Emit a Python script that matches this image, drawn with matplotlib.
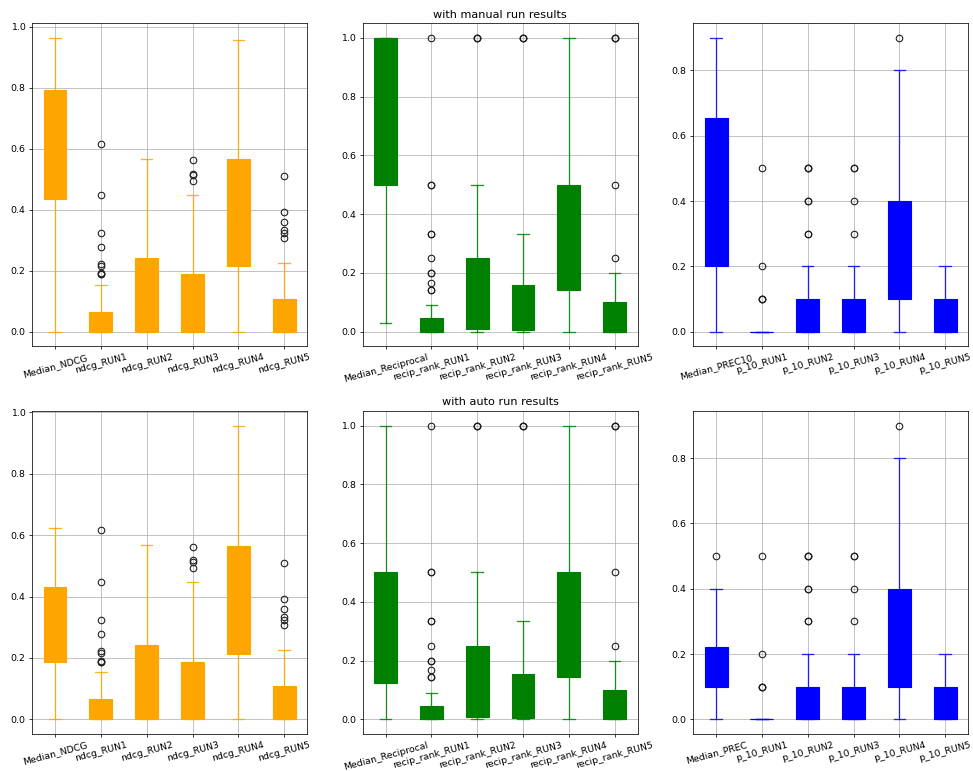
import matplotlib
matplotlib.use('Agg')
import matplotlib.pyplot as plt


# ラベル
ndcg_labels = ['Median_NDCG', 'ndcg_RUN1', 'ndcg_RUN2', 'ndcg_RUN3', 'ndcg_RUN4', 'ndcg_RUN5']
recip_labels = ['Median_Reciprocal', 'recip_rank_RUN1', 'recip_rank_RUN2',
                'recip_rank_RUN3', 'recip_rank_RUN4', 'recip_rank_RUN5']
prec_labels_manual = ['Median_PREC10', 'p_10_RUN1', 'p_10_RUN2', 'p_10_RUN3', 'p_10_RUN4', 'p_10_RUN5']
prec_labels_auto = ['Median_PREC', 'p_10_RUN1', 'p_10_RUN2', 'p_10_RUN3', 'p_10_RUN4', 'p_10_RUN5']

# NDCG (manual)
ndcg_whislo_manual = [0.0, 0.0, 0.0, 0.0, 0.0, 0.0]
ndcg_q1_manual = [0.435, 0.0, 0.0, 0.0, 0.214, 0.0]
ndcg_med_manual = [0.62, 0.0, 0.06, 0.03, 0.39, 0.0]
ndcg_q3_manual = [0.794, 0.065, 0.241, 0.188, 0.565, 0.108]
ndcg_whishi_manual = [0.964, 0.153, 0.567, 0.448, 0.957, 0.225]
ndcg_fliers_manual = [
    [],
    [0.617, 0.448, 0.323, 0.279, 0.222, 0.216, 0.191, 0.188, 0.188],
    [],
    [0.562, 0.518, 0.513, 0.493],
    [],
    [0.509, 0.393, 0.358, 0.334, 0.323, 0.307],
]

# NDCG (auto)
ndcg_whislo_auto = [0.0, 0.0, 0.0, 0.0, 0.0, 0.0]
ndcg_q1_auto = [0.186, 0.0, 0.0, 0.0, 0.214, 0.0]
ndcg_med_auto = [0.30, 0.0, 0.06, 0.03, 0.39, 0.0]
ndcg_q3_auto = [0.431, 0.065, 0.241, 0.188, 0.565, 0.108]
ndcg_whishi_auto = [0.624, 0.153, 0.567, 0.448, 0.957, 0.225]
ndcg_fliers_auto = ndcg_fliers_manual

# Reciprocal rank (manual)
recip_whislo_manual = [0.028, 0.0, 0.0, 0.0, 0.0, 0.0]
recip_q1_manual = [0.5, 0.0, 0.008, 0.005, 0.143, 0.0]
recip_med_manual = [1.0, 0.0, 0.05, 0.03, 0.25, 0.0]
recip_q3_manual = [1.0, 0.045, 0.25, 0.157, 0.5, 0.1]
recip_whishi_manual = [1.0, 0.09, 0.5, 0.333, 1.0, 0.2]
recip_fliers_manual = [
    [],
    [1.0, 0.5, 0.5, 0.333, 0.333, 0.25, 0.2, 0.2, 0.167, 0.143, 0.143],
    [1.0, 1.0, 1.0],
    [1.0, 1.0, 1.0],
    [],
    [1.0, 1.0, 1.0, 0.5, 0.25],
]

# Reciprocal rank (auto)
recip_whislo_auto = [0.0, 0.0, 0.0, 0.0, 0.0, 0.0]
recip_q1_auto = [0.123, 0.0, 0.008, 0.005, 0.143, 0.0]
recip_med_auto = [0.25, 0.0, 0.05, 0.03, 0.25, 0.0]
recip_q3_auto = [0.5, 0.045, 0.25, 0.153, 0.5, 0.1]
recip_whishi_auto = [1.0, 0.09, 0.5, 0.333, 1.0, 0.2]
recip_fliers_auto = recip_fliers_manual

# P@10 (manual)
prec_whislo_manual = [0.0, 0.0, 0.0, 0.0, 0.0, 0.0]
prec_q1_manual = [0.2, 0.0, 0.0, 0.0, 0.1, 0.0]
prec_med_manual = [0.4, 0.0, 0.0, 0.0, 0.2, 0.0]
prec_q3_manual = [0.653, 0.0, 0.1, 0.1, 0.4, 0.1]
prec_whishi_manual = [0.9, 0.0, 0.2, 0.2, 0.8, 0.2]
prec_fliers_manual = [
    [],
    [0.5, 0.2, 0.1, 0.1, 0.1],
    [0.5, 0.5, 0.5, 0.4, 0.4, 0.3, 0.3],
    [0.5, 0.5, 0.4, 0.3],
    [0.9],
    [],
]

# P@10 (auto)
prec_whislo_auto = [0.0, 0.0, 0.0, 0.0, 0.0, 0.0]
prec_q1_auto = [0.1, 0.0, 0.0, 0.0, 0.1, 0.0]
prec_med_auto = [0.15, 0.0, 0.0, 0.0, 0.2, 0.0]
prec_q3_auto = [0.223, 0.0, 0.1, 0.1, 0.4, 0.1]
prec_whishi_auto = [0.4, 0.0, 0.2, 0.2, 0.8, 0.2]
prec_fliers_auto = [[0.5]] + prec_fliers_manual[1:]

DPI = 67.2


def make_stats(labels, whislo, q1, med, q3, whishi, fliers):
    stats = []
    for i in range(len(labels)):
        stats.append({'label': labels[i], 'whislo': whislo[i], 'q1': q1[i], 'med': med[i],
                      'q3': q3[i], 'whishi': whishi[i], 'fliers': fliers[i]})
    return stats


def draw_box(ax, stats, color, title=None):
    ax.bxp(stats, patch_artist=True,
           boxprops=dict(facecolor=color, edgecolor=color, linewidth=1.2),
           whiskerprops=dict(color=color, linewidth=1.4, alpha=0.85),
           capprops=dict(color=color, linewidth=1.4, alpha=0.85),
           medianprops=dict(color=color, linewidth=1.2),
           flierprops=dict(marker='o', markersize=7, markerfacecolor='none',
                           markeredgecolor='#222222', markeredgewidth=1.2))
    ax.grid(True)
    ax.tick_params(axis='x', labelrotation=15)
    if title:
        ax.set_title(title)


def main():
    fig, axes = plt.subplots(2, 3, figsize=(973 / DPI, 771 / DPI), dpi=DPI)
    fig.subplots_adjust(left=0.033, right=0.995, bottom=0.048, top=0.970, wspace=0.202, hspace=0.2)

    # 上段 manual
    draw_box(axes[0, 0], make_stats(ndcg_labels, ndcg_whislo_manual, ndcg_q1_manual, ndcg_med_manual,
                                    ndcg_q3_manual, ndcg_whishi_manual, ndcg_fliers_manual), 'orange')
    draw_box(axes[0, 1], make_stats(recip_labels, recip_whislo_manual, recip_q1_manual, recip_med_manual,
                                    recip_q3_manual, recip_whishi_manual, recip_fliers_manual), 'green',
             'with manual run results')
    draw_box(axes[0, 2], make_stats(prec_labels_manual, prec_whislo_manual, prec_q1_manual, prec_med_manual,
                                    prec_q3_manual, prec_whishi_manual, prec_fliers_manual), 'blue')

    # 下段 auto
    draw_box(axes[1, 0], make_stats(ndcg_labels, ndcg_whislo_auto, ndcg_q1_auto, ndcg_med_auto,
                                    ndcg_q3_auto, ndcg_whishi_auto, ndcg_fliers_auto), 'orange')
    draw_box(axes[1, 1], make_stats(recip_labels, recip_whislo_auto, recip_q1_auto, recip_med_auto,
                                    recip_q3_auto, recip_whishi_auto, recip_fliers_auto), 'green',
             'with auto run results')
    draw_box(axes[1, 2], make_stats(prec_labels_auto, prec_whislo_auto, prec_q1_auto, prec_med_auto,
                                    prec_q3_auto, prec_whishi_auto, prec_fliers_auto), 'blue')

    plt.savefig('out.png', dpi=DPI)
    plt.close()


if __name__ == '__main__':
    main()
